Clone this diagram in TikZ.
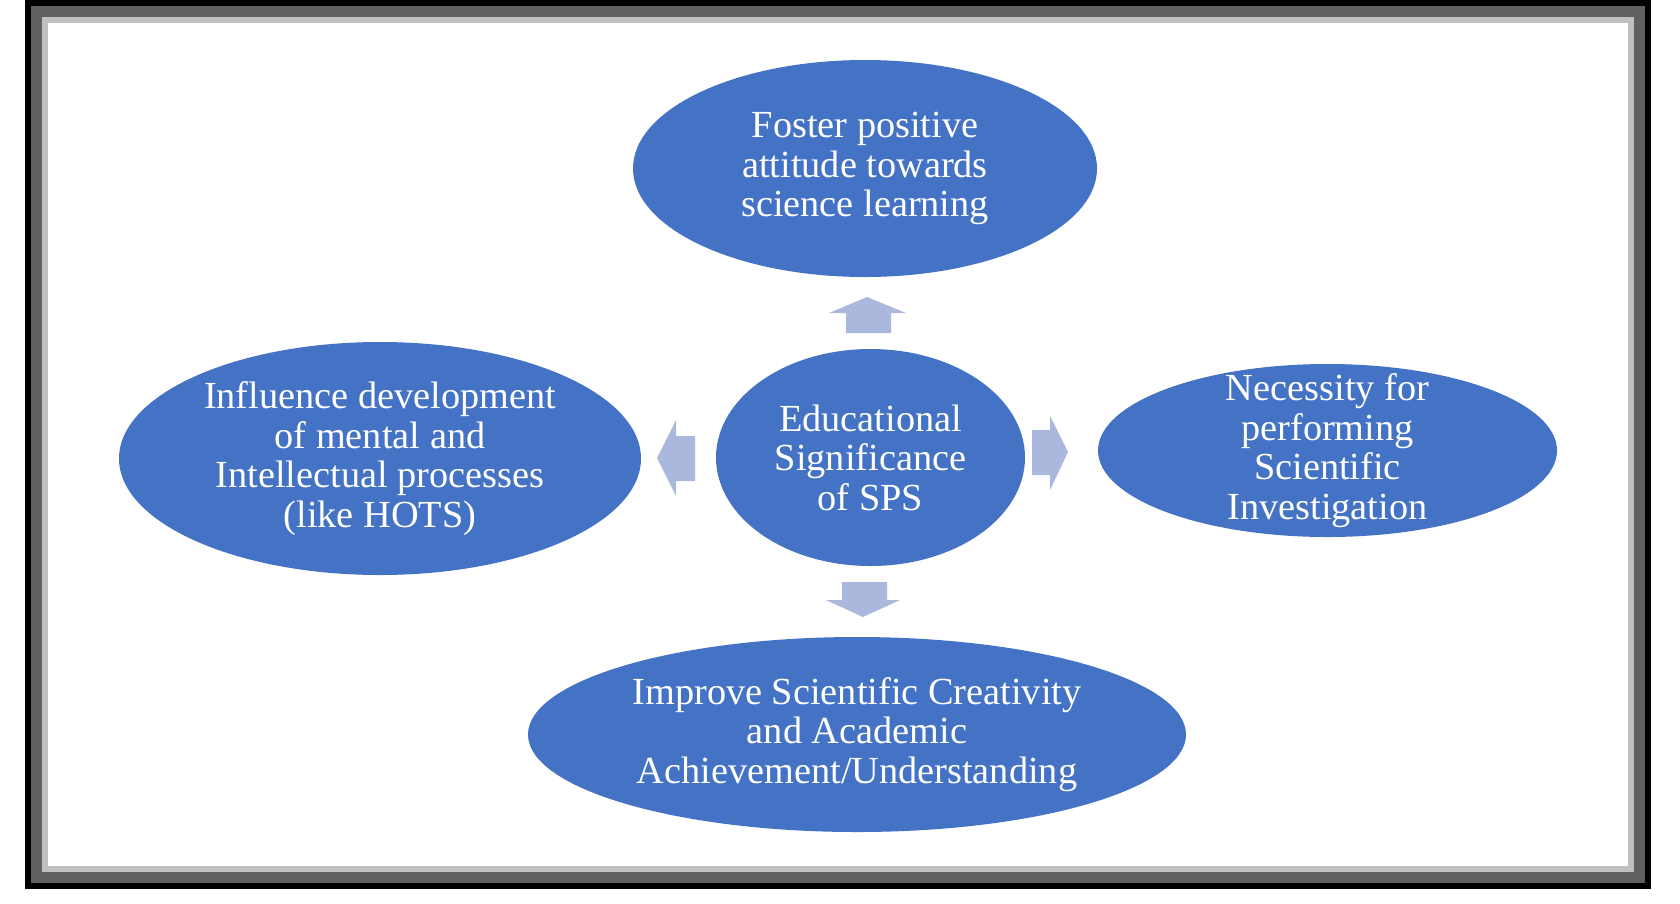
\documentclass[tikz,border=0pt]{standalone}
\usepackage{fontspec}
\setmainfont{Liberation Serif}
\usetikzlibrary{shapes.geometric}
\definecolor{blobblue}{HTML}{4472C4}
\definecolor{arrowblue}{HTML}{A9B8DC}
\definecolor{framedark}{HTML}{606060}
\definecolor{framelight}{HTML}{C0C0C0}
\begin{document}
\begin{tikzpicture}[x=1pt,y=-1pt,
  blob/.style={ellipse, fill=blobblue, draw=none, inner sep=0pt, outer sep=0pt},
  lbl/.style={text=white, align=center, inner sep=0pt, font=\fontsize{38.3}{39.6}\selectfont},
  blockarrow/.style={fill=arrowblue, draw=none}]
\useasboundingbox (0,0) rectangle (1680,903);
% frame
\fill[black] (25,0) rectangle (1651,889);
\fill[framedark] (31,6) rectangle (1645,883);
\fill[framelight] (42,17) rectangle (1634,872);
\fill[white] (48,23) rectangle (1628,866);
% ellipses
\node[blob, minimum width=464, minimum height=217] (top) at (865,168.5) {};
\node[blob, minimum width=309, minimum height=217] (mid) at (870.5,457.5) {};
\node[blob, minimum width=522, minimum height=233] (left) at (380,458.5) {};
\node[blob, minimum width=459, minimum height=173] (right) at (1327.5,450.5) {};
\node[blob, minimum width=658, minimum height=195] (bottom) at (857,734.5) {};
% labels
\node[lbl] (topt) at (top) {Foster positive\\attitude towards\\science learning};
\node[lbl] (midt) at (mid) {Educational\\Significance\\of SPS};
\node[lbl] (leftt) at (left) {Influence development\\of mental and\\Intellectual processes\\(like HOTS)};
\node[lbl] (rightt) at (right) {Necessity for\\performing\\Scientific\\Investigation};
\node[lbl] (bottomt) at (bottom) {Improve Scientific Creativity\\and Academic\\Achievement/Understanding};
% block arrows
\fill[blockarrow] (846,333) -- (846,313) -- (829,313) -- (867,297) -- (906,313) -- (891,313) -- (891,333) -- cycle;
\fill[blockarrow] (695,436) -- (676,436) -- (676,420) -- (657,458) -- (676,496) -- (676,481) -- (695,481) -- cycle;
\fill[blockarrow] (1032,430) -- (1050,430) -- (1050,416) -- (1068,452) -- (1050,490) -- (1050,475) -- (1032,475) -- cycle;
\fill[blockarrow] (842,582) -- (887,582) -- (887,600) -- (900,600) -- (863,617) -- (826,600) -- (842,600) -- cycle;
\end{tikzpicture}
\end{document}
